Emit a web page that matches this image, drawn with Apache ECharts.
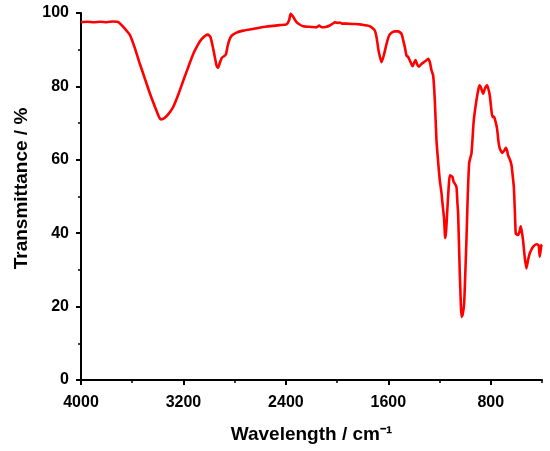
<!DOCTYPE html>
<html>
<head>
<meta charset="utf-8">
<script src="https://cdn.jsdelivr.net/npm/echarts@6/dist/echarts.min.js"></script>
<style>
html,body{margin:0;padding:0;background:#fff;}
#chart{width:550px;height:451px;}
</style>
</head>
<body>
<div id="chart"></div>
<script>
const wavenumbers = [4000,3950,3900,3850,3800,3750,3720,3700,3670,3640,3618,3580,3540,3500,3461,3420,3390,3376,3350,3310,3280,3240,3201,3160,3123,3090,3060,3030,3010,2990,2975,2955,2940,2930,2915,2900,2880,2868,2855,2840,2824,2790,2733,2650,2551,2450,2395,2375,2363,2350,2340,2317,2290,2265,2200,2160,2140,2120,2090,2057,2030,2017,2000,1979,1960,1926,1870,1822,1770,1744,1720,1705,1692,1675,1653,1635,1614,1595,1575,1550,1523,1497,1480,1471,1458,1445,1425,1411,1398,1388,1375,1362,1350,1341,1310,1289,1275,1263,1250,1237,1224,1210,1198,1185,1177,1165,1158,1154,1148,1138,1128,1120,1110,1099,1090,1081,1068,1060,1055,1042,1035,1029,1020,1008,998,990,980,969,960,951,942,933,912,895,886,875,860,845,829,820,808,795,787,776,769,751,740,730,709,695,683,672,665,650,638,630,620,612,605,595,587,575,566,558,548,535,522,510,496,483,470,444,430,424,418,410,405,400];
const transmittance = [97.5,97.6,97.5,97.6,97.5,97.7,97.6,97.3,96.2,95.0,94.0,90.5,86.1,82.0,78.0,74.2,71.6,71.0,71.3,72.8,74.4,77.8,81.6,85.5,88.9,91.2,92.8,93.8,94.1,93.5,91.5,88.0,85.5,85.1,86.5,87.8,88.3,88.7,91.0,92.8,93.8,94.6,95.2,95.7,96.3,96.7,96.9,98.0,99.8,99.3,98.8,97.5,96.8,96.4,96.2,96.1,96.6,96.1,96.2,96.6,97.2,97.5,97.3,97.4,97.1,97.1,97.0,96.9,96.6,96.4,95.8,95.2,93.4,89.5,86.6,88.5,91.6,93.8,94.6,95.0,95.0,94.3,92.0,90.7,88.4,88.0,86.5,85.5,86.5,87.2,86.0,85.4,85.8,86.1,86.9,87.5,86.5,84.4,83.0,76.2,65.3,59.0,54.4,51.0,48.1,44.0,39.5,38.7,41.0,47.2,53.0,55.8,55.6,55.3,54.0,53.5,52.6,48.0,45.4,29.0,22.0,17.2,17.8,20.9,30.0,38.1,50.0,59.0,60.5,61.7,66.0,70.7,76.2,79.5,80.3,79.5,78.0,79.5,80.3,79.5,77.6,73.5,71.7,71.8,71.2,68.5,65.0,63.1,61.9,62.5,63.3,62.5,61.2,60.0,58.5,56.0,52.6,46.0,39.9,39.6,39.5,40.5,41.9,40.5,38.1,33.5,30.4,32.5,34.5,35.5,36.3,37.0,36.8,36.3,33.6,35.5,36.7,36.9];
const xMajorTicks = [4000,3200,2400,1600,800];
const xMinorTicks = [3600,2800,2000,1200,400];
const yTicks = [0,20,40,60,80,100];

const FONT = "'Liberation Sans', Arial, sans-serif";
const chart = echarts.init(document.getElementById('chart'), null, {renderer:'canvas'});
const seriesData = wavenumbers.map((w, i) => [w, transmittance[i]]);

chart.setOption({
  animation: false,
  backgroundColor: '#ffffff',
  grid: {left: 81, right: 8, top: 13, bottom: 71, containLabel: false},
  xAxis: [{
    type: 'value', min: 400, max: 4000, inverse: true,
    name: 'Wavelength / cm\u207B\u00B9', nameLocation: 'middle', nameGap: 45,
    nameTextStyle: {fontFamily: FONT, fontWeight: 'bold', fontSize: 19, color: '#000'},
    axisLine: {show: true, lineStyle: {color: '#000', width: 2}},
    axisTick: {show: true, length: 5, customValues: xMajorTicks, lineStyle: {color: '#000', width: 2}},
    axisLabel: {show: true, customValues: xMajorTicks, margin: 15, formatter: v => String(v),
      fontFamily: FONT, fontWeight: 'bold', fontSize: 16, color: '#000'},
    splitLine: {show: false}
  }, {
    type: 'value', min: 400, max: 4000, inverse: true, position: 'bottom',
    axisLine: {show: false},
    axisTick: {show: true, length: 3, customValues: xMinorTicks, lineStyle: {color: '#000', width: 1.5}},
    axisLabel: {show: false},
    splitLine: {show: false}
  }],
  yAxis: {
    type: 'value', min: 0, max: 100, interval: 20,
    name: 'Transmittance / %', nameLocation: 'middle', nameGap: 50, nameRotate: 90,
    nameTextStyle: {fontFamily: FONT, fontWeight: 'bold', fontSize: 19, color: '#000', padding: [0, 0, 0, 16]},
    axisLine: {show: true, lineStyle: {color: '#000', width: 2}},
    axisTick: {show: true, length: 5, lineStyle: {color: '#000', width: 2}},
    minorTick: {show: true, splitNumber: 2, length: 3, lineStyle: {color: '#000', width: 1.5}},
    axisLabel: {margin: 12, formatter: v => String(v), fontFamily: FONT, fontWeight: 'bold', fontSize: 16, color: '#000'},
    splitLine: {show: false},
    minorSplitLine: {show: false}
  },
  series: [{
    type: 'line', xAxisIndex: 0, data: seriesData, showSymbol: false, symbol: 'none',
    smooth: 0.2,
    lineStyle: {color: '#ff0000', width: 2.6},
    clip: true
  }]
});
</script>
</body>
</html>
